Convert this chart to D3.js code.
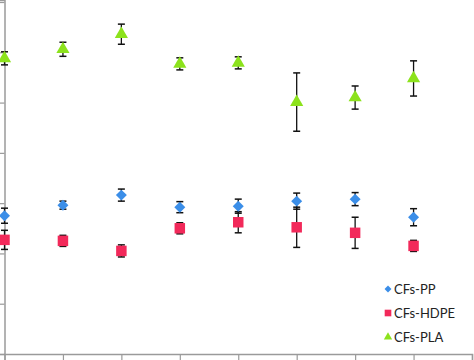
<!DOCTYPE html>
<html>
<head>
<meta charset="utf-8">
<script src="https://cdn.jsdelivr.net/npm/d3@7"></script>
<style>
  html, body { margin: 0; padding: 0; background: #fff; }
  svg { display: block; }
</style>
</head>
<body>
<svg id="chart" width="474" height="360"></svg>
<script>
// Category positions (index along x axis)
const categories = [0, 1, 2, 3, 4, 5, 6, 7];
const xTicks = [0, 1, 2, 3, 4, 5, 6, 7, 8];
const yTicks = [0, 10, 20, 30, 40, 50, 60, 70];

const seriesNames = ["CFs-PP", "CFs-HDPE", "CFs-PLA"];
const ppValues   = [27.5, 29.6, 31.6, 29.2, 29.4, 30.4, 30.8, 27.2];
const ppErrors   = [1.5, 0.8, 1.2, 1.1, 1.4, 1.6, 1.3, 1.7];
const hdpeValues = [22.7, 22.5, 20.5, 25.0, 26.2, 25.2, 24.1, 21.5];
const hdpeErrors = [1.9, 1.1, 1.2, 1.1, 2.1, 4.0, 3.1, 1.1];
const plaValues  = [58.8, 60.6, 63.6, 57.7, 57.9, 50.1, 51.0, 54.8];
const plaErrors  = [1.3, 1.4, 2.0, 1.2, 1.2, 5.8, 2.3, 3.5];

const svg = d3.select("#chart");

const x = d3.scaleLinear().domain([0, 8]).range([4.5, 472]);
const y = d3.scaleLinear().domain([0, 70.4]).range([354, 0]);

const axisColor = "#9a9a9a";

// Y axis
const yAxis = svg.append("g").attr("transform", "translate(4.5,0)")
  .call(d3.axisLeft(y).tickValues(yTicks).tickSize(5).tickFormat(""));
// X axis
const xAxis = svg.append("g").attr("transform", "translate(0,354)")
  .call(d3.axisBottom(x).tickValues(xTicks).tickSize(6).tickFormat(""));
[yAxis, xAxis].forEach(g => {
  g.select(".domain").attr("stroke", axisColor).attr("stroke-width", 1.5);
  g.selectAll(".tick line").attr("stroke", axisColor).attr("stroke-width", 1.2);
});

// square-diamond (rotated square) symbol
const symbolRhombus = {
  draw(ctx, size) {
    const r = Math.sqrt(size / 2);
    ctx.moveTo(0, -r); ctx.lineTo(r, 0); ctx.lineTo(0, r); ctx.lineTo(-r, 0); ctx.closePath();
  }
};

const series = [
  { name: seriesNames[0], values: ppValues, errors: ppErrors, color: "#3b8ee8", symbol: symbolRhombus, size: 60 },
  { name: seriesNames[1], values: hdpeValues, errors: hdpeErrors, color: "#f2295a", symbol: d3.symbolSquare, size: 110 },
  { name: seriesNames[2], values: plaValues, errors: plaErrors, color: "#8ce21c", symbol: d3.symbolTriangle, size: 75 }
];

// error bars
series.forEach(s => {
  const g = svg.append("g");
  categories.forEach((c, i) => {
    const cx = x(c), v = s.values[i], e = s.errors[i];
    const y1 = y(v + e), y2 = y(v - e);
    g.append("line").attr("x1", cx).attr("x2", cx).attr("y1", y1).attr("y2", y2)
      .attr("stroke", "#111").attr("stroke-width", 1.3);
    [y1, y2].forEach(yy => g.append("line").attr("x1", cx - 3.5).attr("x2", cx + 3.5)
      .attr("y1", yy).attr("y2", yy).attr("stroke", "#111").attr("stroke-width", 1.5));
  });
});

// markers
series.forEach(s => {
  svg.append("g").selectAll("path").data(categories).join("path")
    .attr("d", d3.symbol().type(s.symbol).size(s.size))
    .attr("transform", (c, i) => `translate(${x(c)},${y(s.values[i])})`)
    .attr("fill", s.color);
});

// legend
const legend = svg.append("g");
series.forEach((s, k) => {
  const ly = 289 + k * 24;
  legend.append("path")
    .attr("d", d3.symbol().type(s.symbol).size(s.size * 0.4))
    .attr("transform", `translate(388,${ly})`)
    .attr("fill", s.color);
  legend.append("text").attr("x", 394).attr("y", ly + 4.5)
    .attr("font-family", "Lato, 'Open Sans', sans-serif").attr("font-size", 13)
    .attr("fill", "#222").text(s.name);
});
</script>
</body>
</html>
